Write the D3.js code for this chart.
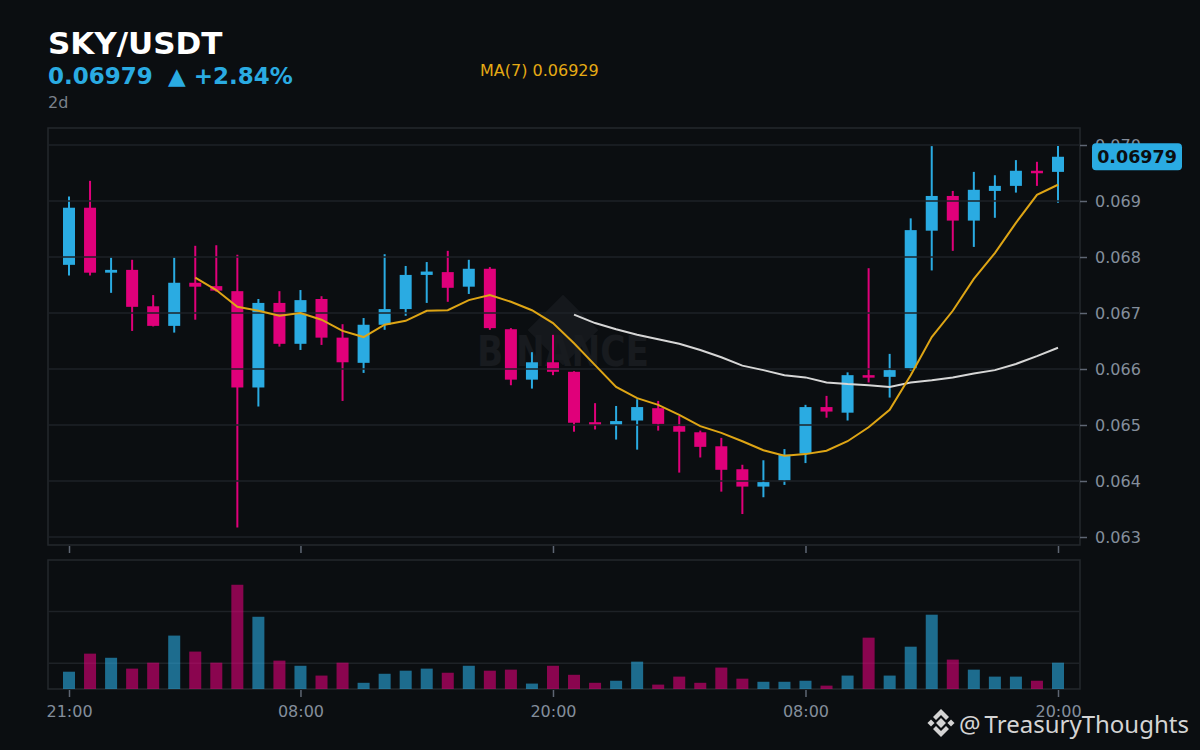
<!DOCTYPE html>
<html>
<head>
<meta charset="utf-8">
<script src="https://cdn.jsdelivr.net/npm/d3@7"></script>
<style>
  body { margin: 0; background: #0b0e11; }
  svg { display: block; font-family: "DejaVu Sans", sans-serif; }
</style>
</head>
<body>
<div id="chart"></div>
<script>
// hourly candles, 21:00 -> 20:00 two days later
const opens  = [0.06786,0.06888,0.06772,0.06777,0.06712,0.06677,0.06754,0.06748,0.06739,0.06567,0.06718,0.06645,
                0.06725,0.06656,0.06611,0.06679,0.06707,0.06768,0.06773,0.06747,0.06779,0.06671,0.06581,0.06612,
                0.06595,0.06505,0.06500,0.06508,0.06530,0.06498,0.06487,0.06462,0.06421,0.06390,0.06401,0.06449,
                0.06532,0.06522,0.06589,0.06586,0.06601,0.06847,0.06909,0.06865,0.06918,0.06927,0.06954,0.06952];
const highs  = [0.06908,0.06936,0.06799,0.06795,0.06732,0.06799,0.06820,0.06821,0.06804,0.06725,0.06739,0.06741,
                0.06730,0.06680,0.06691,0.06805,0.06784,0.06791,0.06811,0.06795,0.06782,0.06673,0.06630,0.06661,
                0.06596,0.06539,0.06534,0.06546,0.06543,0.06516,0.06490,0.06477,0.06429,0.06437,0.06457,0.06536,
                0.06552,0.06594,0.06780,0.06627,0.06869,0.06998,0.06918,0.06952,0.06946,0.06973,0.06970,0.06998];
const lows   = [0.06767,0.06767,0.06736,0.06668,0.06676,0.06665,0.06688,0.06738,0.06317,0.06533,0.06640,0.06634,
                0.06643,0.06543,0.06593,0.06670,0.06695,0.06718,0.06720,0.06734,0.06670,0.06571,0.06565,0.06589,
                0.06488,0.06492,0.06474,0.06456,0.06490,0.06415,0.06442,0.06381,0.06341,0.06371,0.06393,0.06432,
                0.06513,0.06508,0.06576,0.06549,0.06597,0.06776,0.06811,0.06818,0.06870,0.06915,0.06927,0.06897];
const closes = [0.06888,0.06772,0.06777,0.06711,0.06677,0.06754,0.06747,0.06740,0.06567,0.06718,0.06645,0.06723,
                0.06656,0.06612,0.06679,0.06707,0.06768,0.06774,0.06745,0.06779,0.06673,0.06581,0.06612,0.06595,
                0.06504,0.06500,0.06507,0.06532,0.06502,0.06488,0.06461,0.06420,0.06390,0.06398,0.06447,0.06532,
                0.06524,0.06589,0.06585,0.06598,0.06848,0.06909,0.06865,0.06920,0.06927,0.06954,0.06952,0.06979];
const volumes = [0.67,1.37,1.21,0.79,1.02,2.07,1.45,1.02,4.04,2.80,1.10,0.90,
                 0.52,1.02,0.24,0.59,0.71,0.79,0.63,0.90,0.71,0.75,0.21,0.90,
                 0.55,0.24,0.32,1.06,0.17,0.48,0.24,0.83,0.40,0.28,0.28,0.32,
                 0.13,0.52,1.99,0.52,1.64,2.88,1.14,0.75,0.48,0.48,0.32,1.02];
// moving averages as drawn on the chart (null where not yet defined)
const ma7 = [null,null,null,null,null,null,
             0.06763,0.06741,0.06711,0.06704,0.06695,0.06700,0.06688,0.06668,0.06657,0.06679,0.06686,0.06704,
             0.06705,0.06723,0.06732,0.06720,0.06705,0.06682,0.06646,0.06607,0.06568,0.06548,0.06536,0.06518,
             0.06498,0.06486,0.06471,0.06455,0.06445,0.06448,0.06454,0.06471,0.06496,0.06527,0.06589,0.06657,
             0.06704,0.06761,0.06807,0.06861,0.06911,0.06929];
const ma25 = [null,null,null,null,null,null,null,null,null,null,null,null,
              null,null,null,null,null,null,null,null,null,null,null,null,
              0.06697,0.06682,0.06671,0.06661,0.06653,0.06645,0.06634,0.06621,0.06606,0.06598,0.06589,0.06585,
              0.06576,0.06573,0.06571,0.06568,0.06576,0.06580,0.06585,0.06592,0.06598,0.06609,0.06623,0.06638];
const priceTicks = [0.063,0.064,0.065,0.066,0.067,0.068,0.069,0.070];
const timeTickIdx = [0, 11, 23, 35, 47];
const volGrid = [1, 3];

const startTime = new Date(2024, 0, 1, 21, 0);
const times = d3.range(opens.length).map(i => d3.timeHour.offset(startTime, i));
const candles = times.map((t, i) => ({t: t, o: opens[i], h: highs[i], l: lows[i], c: closes[i], v: volumes[i]}));

const W = 1200, H = 750;
const upColor = '#2aabe2', downColor = '#e0007a';
const gridColor = '#1e2227', frameColor = '#24282d', axisText = '#848e9c';

const svg = d3.select('#chart').append('svg')
    .attr('width', W)
    .attr('height', H)
    .style('background', '#0b0e11');

// panes
const pLeft = 48, pRight = 1080, pTop = 128, pBottom = 545;
const vTop = 560, vBottom = 689;

const x = d3.scaleTime().domain([times[0], times[times.length - 1]]).range([69, 1058]);
const y = d3.scaleLinear().domain([0.0628571, 0.0703036]).range([pBottom, pTop]);
const yv = d3.scaleLinear().domain([0, 5]).range([vBottom, vTop]);

// header
svg.append('text').attr('x', 48).attr('y', 54)
    .attr('fill', '#ffffff').attr('font-size', 31).attr('font-weight', 'bold')
    .text('SKY/USDT');
svg.append('text').attr('x', 48).attr('y', 84)
    .attr('fill', upColor).attr('font-size', 23).attr('font-weight', 'bold')
    .text('0.06979');
svg.append('text').attr('x', 168).attr('y', 84)
    .attr('fill', upColor).attr('font-size', 23).attr('font-weight', 'bold')
    .text('▲ +2.84%');
svg.append('text').attr('x', 48).attr('y', 108)
    .attr('fill', '#7a818b').attr('font-size', 16)
    .text('2d');
svg.append('text').attr('x', 480).attr('y', 76)
    .attr('fill', '#e5aa14').attr('font-size', 16)
    .text('MA(7) ' + ma7[ma7.length - 1].toFixed(5));

// watermark in the middle
const wm = svg.append('g').attr('transform', 'translate(563,330)');
wm.append('rect').attr('x', -25).attr('y', -25).attr('width', 50).attr('height', 50)
    .attr('transform', 'rotate(45)').attr('fill', '#15181c');
wm.append('text').attr('x', 0).attr('y', 36).attr('text-anchor', 'middle')
    .attr('font-size', 42).attr('font-weight', 'bold').attr('fill', '#181b1f')
    .attr('textLength', 172).attr('lengthAdjust', 'spacingAndGlyphs')
    .text('BINANCE');

// frames
svg.append('rect').attr('x', pLeft).attr('y', pTop).attr('width', pRight - pLeft).attr('height', pBottom - pTop)
    .attr('fill', 'none').attr('stroke', frameColor).attr('stroke-width', 1.5);
svg.append('rect').attr('x', pLeft).attr('y', vTop).attr('width', pRight - pLeft).attr('height', vBottom - vTop)
    .attr('fill', 'none').attr('stroke', frameColor).attr('stroke-width', 1.5);

// volume grid (below bars)
svg.append('g').selectAll('line').data(volGrid).join('line')
    .attr('x1', pLeft).attr('x2', pRight)
    .attr('y1', d => yv(d)).attr('y2', d => yv(d))
    .attr('stroke', gridColor).attr('stroke-width', 1.5);

// volume bars
svg.append('g').selectAll('rect').data(candles).join('rect')
    .attr('x', d => x(d.t) - 6)
    .attr('width', 12)
    .attr('y', d => yv(d.v))
    .attr('height', d => yv(0) - yv(d.v))
    .attr('fill', d => d.c >= d.o ? upColor : downColor)
    .attr('fill-opacity', 0.6);

// candles
const cg = svg.append('g');
cg.selectAll('line').data(candles).join('line')
    .attr('x1', d => x(d.t)).attr('x2', d => x(d.t))
    .attr('y1', d => y(d.h)).attr('y2', d => y(d.l))
    .attr('stroke', d => d.c >= d.o ? upColor : downColor)
    .attr('stroke-width', 2);
cg.selectAll('rect').data(candles).join('rect')
    .attr('x', d => x(d.t) - 6)
    .attr('width', 12)
    .attr('y', d => Math.min(y(d.o), y(d.c)))
    .attr('height', d => Math.max(2.5, Math.abs(y(d.o) - y(d.c))))
    .attr('fill', d => d.c >= d.o ? upColor : downColor);

// price grid drawn over the candles
svg.append('g').selectAll('line').data(priceTicks).join('line')
    .attr('x1', pLeft).attr('x2', pRight)
    .attr('y1', d => y(d)).attr('y2', d => y(d))
    .attr('stroke', gridColor).attr('stroke-width', 1.5);

// moving averages
const maLine = arr => d3.line()
    .defined((d, i) => arr[i] !== null)
    .x((d, i) => x(times[i]))
    .y((d, i) => y(arr[i]))(arr);
svg.append('path').attr('d', maLine(ma25))
    .attr('fill', 'none').attr('stroke', '#d6d6d6').attr('stroke-width', 2);
svg.append('path').attr('d', maLine(ma7))
    .attr('fill', 'none').attr('stroke', '#dea515').attr('stroke-width', 2);

// axes
function styleAxis(g) {
    g.select('.domain').remove();
    g.selectAll('.tick line').attr('stroke', '#5e6673').attr('stroke-width', 1.5);
    g.selectAll('.tick text').attr('fill', axisText).attr('font-size', 16)
        .attr('font-family', '"DejaVu Sans", sans-serif');
}
svg.append('g').attr('transform', `translate(${pRight},0)`)
    .call(d3.axisRight(y).tickValues(priceTicks).tickFormat(d3.format('.3f')).tickSize(7).tickPadding(8))
    .call(styleAxis);

const tickTimes = timeTickIdx.map(i => times[i]);
svg.append('g').attr('transform', `translate(0,${pBottom + 1})`)
    .call(d3.axisBottom(x).tickValues(tickTimes).tickFormat('').tickSize(7))
    .call(styleAxis);
svg.append('g').attr('transform', `translate(0,${vBottom + 1})`)
    .call(d3.axisBottom(x).tickValues(tickTimes).tickFormat(d3.timeFormat('%H:%M')).tickSize(7).tickPadding(9))
    .call(styleAxis);

// last price tag
const last = candles[candles.length - 1];
const tag = svg.append('g').attr('transform', `translate(1092,${y(last.c)})`);
tag.append('rect').attr('x', 0).attr('y', -13.5).attr('width', 90).attr('height', 27).attr('rx', 4)
    .attr('fill', upColor);
tag.append('text').attr('x', 45).attr('y', 6.5).attr('text-anchor', 'middle')
    .attr('font-size', 17.5).attr('font-weight', 'bold').attr('fill', '#0b0e11')
    .text(last.c.toFixed(5));

// signature
const logo = svg.append('g').attr('transform', 'translate(941,723)').attr('fill', '#d4d4d4');
logo.append('rect').attr('x', -3.5).attr('y', -3.5).attr('width', 7).attr('height', 7).attr('transform', 'rotate(45)');
logo.append('rect').attr('x', -2.5).attr('y', -2.5).attr('width', 5).attr('height', 5).attr('transform', 'translate(-10,0) rotate(45)');
logo.append('rect').attr('x', -2.5).attr('y', -2.5).attr('width', 5).attr('height', 5).attr('transform', 'translate(10,0) rotate(45)');
logo.append('path').attr('d', 'M0,-14 L8,-6 L5,-3 L0,-8 L-5,-3 L-8,-6 Z');
logo.append('path').attr('d', 'M0,14 L8,6 L5,3 L0,8 L-5,3 L-8,6 Z');
const sig = svg.append('text').attr('x', 959).attr('y', 733)
    .attr('fill', '#d4d4d4').attr('font-size', 24)
    .attr('font-family', '"Noto Sans", sans-serif');
sig.append('tspan').text('@');
sig.append('tspan').attr('dx', 4).text('TreasuryThoughts');
</script>
</body>
</html>
